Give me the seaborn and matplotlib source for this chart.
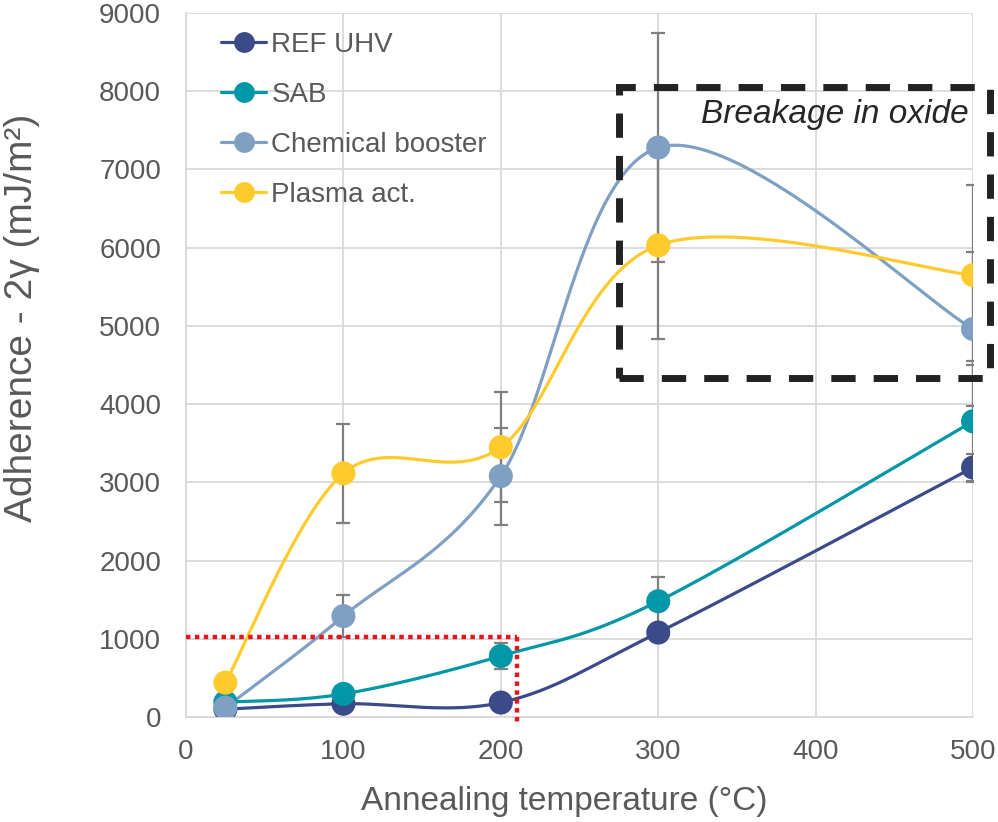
import numpy as np
import pandas as pd
import matplotlib
matplotlib.use("Agg")
import matplotlib.pyplot as plt
import seaborn as sns
from matplotlib.patches import Rectangle
from matplotlib.lines import Line2D

# ---------------- data ----------------
temps = [25, 100, 200, 300, 500]
series_names = ["REF UHV", "SAB", "Chemical booster", "Plasma act."]
ref_uhv = [100, 170, 185, 1080, 3190]
sab = [190, 295, 780, 1480, 3780]
chem_booster = [120, 1290, 3080, 7280, 4960]
plasma_act = [440, 3115, 3450, 6030, 5650]
# error bars (0 = no bar)
ref_uhv_err = [0, 0, 0, 0, 170]
sab_err = [0, 0, 160, 310, 770]
chem_booster_err = [0, 270, 620, 1460, 990]
plasma_act_err = [0, 630, 700, 1200, 1150]
x_ticks = [0, 100, 200, 300, 400, 500]
y_ticks = [0, 1000, 2000, 3000, 4000, 5000, 6000, 7000, 8000, 9000]

colors = ["#3B4A89", "#0097A7", "#7FA0C2", "#FFCA2C"]
values = [ref_uhv, sab, chem_booster, plasma_act]
errors = [ref_uhv_err, sab_err, chem_booster_err, plasma_act_err]

# ---------------- style ----------------
sns.set_theme(style="whitegrid")
plt.rcParams["font.family"] = ["Liberation Sans", "DejaVu Sans"]
GRAY = "#595959"


def excel_smooth(xs, ys, n=60):
    """Excel-like smoothed line (Catmull-Rom via cubic Bezier)."""
    P = np.column_stack([xs, ys]).astype(float)
    P_ext = np.vstack([P[0], P, P[-1]])
    out = []
    t = np.linspace(0, 1, n)[:, None]
    for i in range(len(P) - 1):
        p0, p1, p2, p3 = P_ext[i], P_ext[i + 1], P_ext[i + 2], P_ext[i + 3]
        c1 = p1 + (p2 - p0) / 6.0
        c2 = p2 - (p3 - p1) / 6.0
        seg = ((1 - t) ** 3) * p1 + 3 * ((1 - t) ** 2) * t * c1 + 3 * (1 - t) * t ** 2 * c2 + t ** 3 * p2
        out.append(seg if i == 0 else seg[1:])
    return np.vstack(out)


fig = plt.figure(figsize=(9.98, 8.22), dpi=100)
ax = fig.add_axes([0.1864, 0.1277, 0.7886, 0.8565])

df = pd.concat(
    [pd.DataFrame({"temp": temps, "val": v, "err": e, "series": s})
     for v, e, s in zip(values, errors, series_names)],
    ignore_index=True,
)

# error bars
for v, e in zip(values, errors):
    xs = [t for t, ee in zip(temps, e) if ee > 0]
    ys = [vv for vv, ee in zip(v, e) if ee > 0]
    es = [ee for ee in e if ee > 0]
    ax.errorbar(xs, ys, yerr=es, fmt="none", ecolor="#7F7F7F", elinewidth=1.6,
                capsize=5, capthick=1.6, zorder=2)

# smooth lines
for v, c in zip(values, colors):
    curve = excel_smooth(temps, v)
    cdf = pd.DataFrame({"x": curve[:, 0], "y": curve[:, 1]})
    sns.lineplot(data=cdf, x="x", y="y", sort=False, estimator=None, ax=ax,
                 color=c, linewidth=2.3, zorder=3)

# markers
sns.scatterplot(data=df, x="temp", y="val", hue="series", hue_order=series_names,
                palette=colors, s=300, edgecolor="none", linewidth=0, ax=ax,
                zorder=4, legend=False)

# red dotted guide lines
ax.plot([0, 210], [1020, 1020], color="#E8141C", linestyle=(0, (1, 1)), linewidth=3.2,
        zorder=5, clip_on=False)
ax.plot([210, 210], [1020, -120], color="#E8141C", linestyle=(0, (1, 1)), linewidth=3.2,
        zorder=5, clip_on=False)

# dashed box
rect = Rectangle((275, 4330), 236, 3720, fill=False, edgecolor="#222222",
                 linewidth=5, linestyle=(0, (3.5, 2.6)), zorder=6, clip_on=False)
ax.add_patch(rect)
ax.text(497, 7700, "Breakage in oxide", style="italic", fontsize=24, color="#262626",
        ha="right", va="center", zorder=7)

# axes formatting
ax.set_xlim(0, 500)
ax.set_ylim(0, 9000)
ax.set_xticks(x_ticks)
ax.set_yticks(y_ticks)
ax.tick_params(axis="both", labelsize=20, labelcolor=GRAY, length=0)
ax.tick_params(axis="x", pad=16)
ax.tick_params(axis="y", pad=18)
ax.grid(True, color="#D9D9D9", linewidth=1.3)
for sp in ax.spines.values():
    sp.set_visible(False)
ax.spines["left"].set_visible(True)
ax.spines["bottom"].set_visible(True)
ax.spines["left"].set_color("#D9D9D9")
ax.spines["bottom"].set_color("#D9D9D9")
ax.spines["left"].set_linewidth(1.3)
ax.spines["bottom"].set_linewidth(1.3)

ax.set_xlabel("Annealing temperature (°C)", fontsize=24, color=GRAY)
ax.set_ylabel("Adherence - 2γ (mJ/m²)", fontsize=28, color=GRAY)
ax.xaxis.set_label_coords(0.48, -0.098)
ax.yaxis.set_label_coords(-0.186, 0.567)

handles = [Line2D([0], [0], color=c, linewidth=2.3, marker="o", markersize=15,
                  markeredgewidth=0) for c in colors]
leg = ax.legend(handles, series_names, loc="upper left", bbox_to_anchor=(0.045, 0.973),
                frameon=False, fontsize=20, handlelength=1.6, handletextpad=0.2,
                labelspacing=0.86, borderaxespad=0, borderpad=0)
for t in leg.get_texts():
    t.set_color(GRAY)

fig.savefig("out.png", dpi=100)
